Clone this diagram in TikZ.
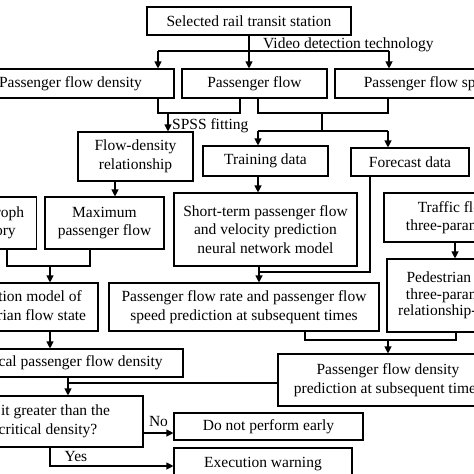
\documentclass[tikz,border=0pt]{standalone}
\usepackage{fontspec}
\setmainfont{Liberation Serif}
\usetikzlibrary{arrows.meta}
\tikzset{
  box/.style={draw, line width=1.1pt, align=center, inner sep=0pt,
    font=\fontsize{15.5}{18.5}\selectfont},
  wh/.style 2 args={minimum width=#1pt, minimum height=#2pt},
  ln/.style={line width=1.1pt},
  arr/.style={line width=1.1pt, -{Triangle[length=7pt,width=7pt]}},
  lbl/.style={inner sep=0pt, font=\fontsize{15.5}{18.5}\selectfont}
}

\begin{document}
\begin{tikzpicture}[x=1pt,y=-1pt]
    \useasboundingbox (0,0) rectangle (474,474);
    \clip (0,0) rectangle (474,474);
    % boxes
    \node[box, wh={204}{28}] (sel) at (249,21) {Selected rail transit station};
    \node[box, wh={207}{29}] (pfd) at (70.5,83.5) {Passenger flow density};
    \node[box, wh={145}{29}] (pf) at (254.5,83.5) {Passenger flow};
    \node[box, wh={191}{29}] (pfs) at (430.5,83.5) {Passenger flow speed};
    \node[box, wh={115}{49}] (fdr) at (135.5,156.5) {Flow-density\\relationship};
    \node[box, wh={125}{30}] (train) at (265.5,161) {Training data};
    \node[box, wh={118}{28}] (fore) at (410,162) {Forecast data};
    \node[box, wh={92}{52}] (cat) at (-9.5,223) {Catastroph\\e theory};
    \node[box, wh={119}{52}] (maxf) at (104.5,223) {Maximum\\passenger flow};
    \node[box, wh={183}{73}] (stn) at (265.5,229.5) {Short-term passenger flow\\and velocity prediction\\neural network model};
    \node[box, wh={142}{49}] (tf) at (455,217.5) {Traffic flow\\three-parameter};
    \node[box, wh={136}{73}, font=\fontsize{15.5}{16.5}\selectfont] (ped) at (455,295.5) {Pedestrian flow\\three-parameter\\relationship-based};
    \node[box, wh={152}{48}] (ident) at (22,307) {Detection model of\\pedestrian flow state};
    \node[box, wh={270}{48}] (pfr) at (244,307) {Passenger flow rate and passenger flow\\speed prediction at subsequent times};
    \node[box, wh={233}{28}] (crit) at (66.5,363) {Critical passenger flow density};
    \node[box, wh={220}{52}] (pdp) at (388,380) {Passenger flow density\\prediction at subsequent times};
    \node[box, wh={190}{51}] (dec) at (48,421.5) {Is it greater than the\\critical density?};
    \node[box, wh={189}{27}] (dnp) at (268.5,426.5) {Do not perform early};
    \node[box, wh={178}{32}] (exe) at (263,464) {Execution warning};
    % junctions
    \coordinate (j1l) at (158,51);
    \coordinate (j1r) at (389,51);
    \coordinate (j2a) at (158,113);
    \coordinate (j2b) at (240,113);
    \coordinate (j2c) at (168,113);
    \coordinate (j3a) at (258,113);
    \coordinate (j3b) at (388,113);
    \coordinate (j3c) at (322,113);
    \coordinate (j3d) at (322,131);
    \coordinate (j3e) at (258,131);
    \coordinate (j3f) at (388,131);
    \coordinate (j4a) at (7,266);
    \coordinate (j4b) at (90,266);
    \coordinate (j4c) at (50,266);
    \coordinate (j5a) at (370,272);
    \coordinate (j5b) at (259,272);
    \coordinate (j6a) at (305,340);
    \coordinate (j6b) at (456,340);
    \coordinate (j6c) at (388,340);
    \coordinate (j7) at (68,383);
    \coordinate (jno) at (0,433);
    \coordinate (j9) at (50,466);
    % connectors
    \draw [arr] (sel.south) -- (sel.south |- pf.north);
    \draw [ln] (j1l) -- (j1r);
    \draw [arr] (j1l) -- (j1l |- pfd.north);
    \draw [arr] (j1r) -- (j1r |- pfs.north);
    \node[lbl, anchor=west] (video) at (263,45) {Video detection technology};
    \draw [ln] (pfd.south -| j2a) -- (j2a) -- (j2b) -- (pf.south -| j2b);
    \draw [arr] (j2c) -- (j2c |- fdr.north);
    \node[lbl, anchor=west] (spss) at (172,126) {SPSS fitting};
    \draw [ln] (pf.south -| j3a) -- (j3a) -- (j3b) -- (pfs.south -| j3b);
    \draw [ln] (j3c) -- (j3d);
    \draw [ln] (j3e) -- (j3f);
    \draw [arr] (j3e) -- (j3e |- train.north);
    \draw [arr] (j3f) -- (j3f |- fore.north);
    \draw [arr] ([xshift=-20.5pt]fdr.south) -- ([xshift=-20.5pt]fdr.south |- maxf.north);
    \draw [ln] (cat.south -| j4a) -- (j4a) -- (j4b) -- (maxf.south -| j4b);
    \draw [arr] (j4c) -- (j4c |- ident.north);
    \draw [arr] (ident.south -| j4c) -- (crit.north -| j4c);
    \draw [arr] (train.south -| j3e) -- (stn.north -| j3e);
    \draw [ln] (fore.south -| j5a) -- (j5a) -- (j5b);
    \draw [arr] (stn.south -| j5b) -- (pfr.north -| j5b);
    \draw [arr] (tf.south) -- (ped.north);
    \draw [ln] (pfr.south -| j6a) -- (j6a) -- (j6b) -- (ped.south -| j6b);
    \draw [arr] (j6c) -- (j6c |- pdp.north);
    \draw [ln] (pdp.west |- j7) -- (j7);
    \draw [arr] (crit.south -| j7) -- (dec.north -| j7);
    \draw [arr] (dec.east |- jno) -- node [lbl, above=6pt] {No} (dnp.west |- jno);
    \draw [arr] (dec.south -| j9) -- (j9) -- node [lbl, above=4pt, pos=0.21] {Yes} (exe.west |- j9);
  \end{tikzpicture}
\end{document}
